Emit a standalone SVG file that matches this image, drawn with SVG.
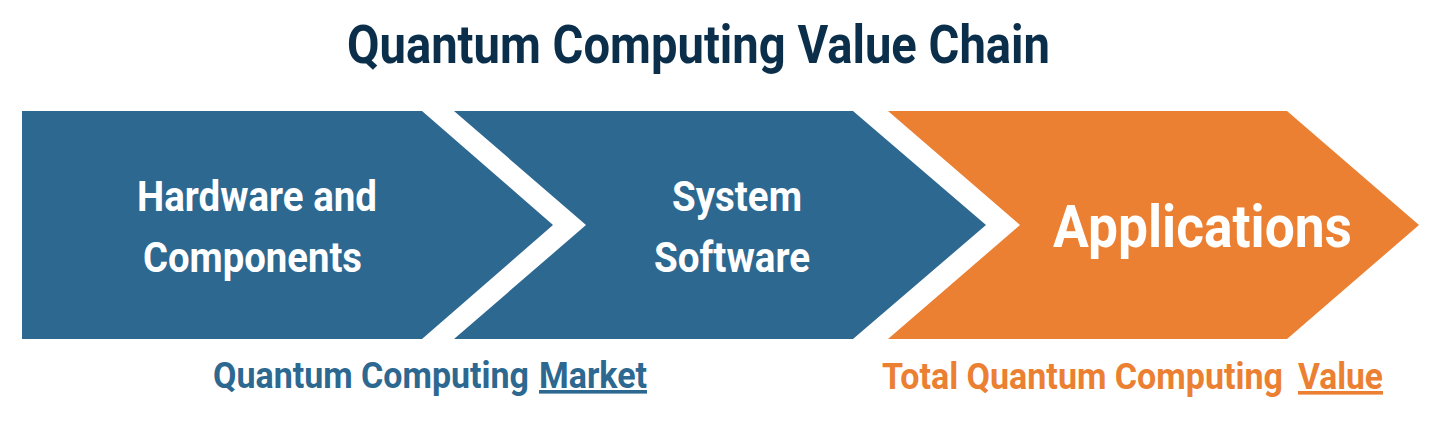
<svg xmlns="http://www.w3.org/2000/svg" width="1435" height="422" viewBox="0 0 1435 422">
<style>
text{font-family:"Roboto","Liberation Sans",sans-serif;font-weight:bold;text-anchor:middle}
.blue{fill:#2D6891}
.orange{fill:#EB7F32}
.w{fill:#FFFFFF}
.title{fill:#0B2F4B;font-size:53px}
.box{font-size:42px}
.lab{font-size:36px;text-anchor:start}
.u{text-decoration:underline}
</style>
<rect width="1435" height="422" fill="#FFFFFF"/>
<text class="title" x="698.5" y="63" textLength="703" lengthAdjust="spacingAndGlyphs">Quantum Computing Value Chain</text>
<g id="hardware">
<polygon class="blue" points="22,111 422,111 553,225 422,339 22,339"/>
<text class="box w" x="257" y="211" textLength="240" lengthAdjust="spacingAndGlyphs">Hardware and</text>
<text class="box w" x="252.5" y="272" textLength="219" lengthAdjust="spacingAndGlyphs">Components</text>
</g>
<g id="software">
<polygon class="blue" points="454,111 853,111 986,225 853,339 454,339 586,225"/>
<text class="box w" x="737" y="211" textLength="130" lengthAdjust="spacingAndGlyphs">System</text>
<text class="box w" x="732" y="272" textLength="156" lengthAdjust="spacingAndGlyphs">Software</text>
</g>
<g id="applications">
<polygon class="orange" points="888,111 1287,111 1419,225 1287,339 888,339 1020,225"/>
<text class="w" style="font-size:59px" x="1202.5" y="247" textLength="299" lengthAdjust="spacingAndGlyphs">Applications</text>
</g>
<g id="connectors"></g>
<g id="labels">
<text class="lab blue" x="213" y="388" textLength="316" lengthAdjust="spacingAndGlyphs">Quantum Computing</text>
<text class="lab blue u" x="539" y="388" textLength="108" lengthAdjust="spacingAndGlyphs">Market</text>
<text class="lab orange" x="882" y="389" textLength="401" lengthAdjust="spacingAndGlyphs">Total Quantum Computing</text>
<text class="lab orange u" x="1298" y="389" textLength="85" lengthAdjust="spacingAndGlyphs">Value</text>
</g>
</svg>
